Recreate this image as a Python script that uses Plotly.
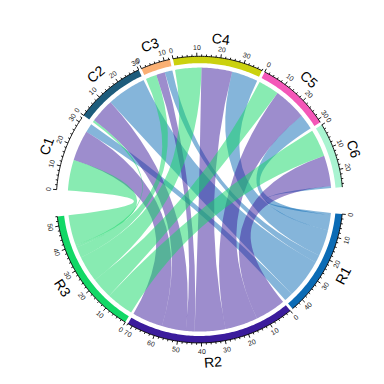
import math
import plotly.graph_objects as go

# ---------------- data ----------------
row_names = ["R1", "R2", "R3"]
col_names = ["C1", "C2", "C3", "C4", "C5", "C6"]
r1_values = [4, 18, 3.5, 12, 7, 1]
r2_values = [14, 11, 4, 14, 15, 14]
r3_values = [14, 1, 5, 12, 9.5, 12.5]
major_tick_step = 10
minor_tick_step = 2

# ---------------- styles ----------------
row_colors = ["#0B6BB5", "#3B1C9C", "#12D866"]
col_colors = ["#FFFFFF", "#1D5C7C", "#FAB073", "#CBD10E", "#F457B8", "#A9F4D1"]
FONT = "Liberation Sans, Arial, sans-serif"

W = H = 384
cx, cy = 191.6, 191.6
r_out = 143.3
r_in = 136.4
r_link = 132.0
start_deg = 5.8
small_gap = 1.2
big_gap = 10.8

matrix = [r1_values, r2_values, r3_values]
names = row_names + col_names
colors = row_colors + col_colors
sizes = [sum(r) for r in matrix] + [sum(matrix[i][j] for i in range(3)) for j in range(6)]
gaps = [small_gap, small_gap, big_gap] + [small_gap] * 5 + [big_gap]
total = sum(sizes)
k = (360 - sum(gaps)) / total

sec_start = []
a = start_deg
for s, g in zip(sizes, gaps):
    sec_start.append(a)
    a += s * k + g


def pt(theta, r):
    t = math.radians(theta)
    return cx + r * math.cos(t), cy + r * math.sin(t)


def arc_pts(t1, t2, r, step=0.8):
    n = max(2, int(abs(t2 - t1) / step) + 2)
    return [pt(t1 + (t2 - t1) * i / (n - 1), r) for i in range(n)]


def fmt(p):
    return f"{p[0]:.2f},{p[1]:.2f}"


def hex_rgba(h, a):
    h = h.lstrip("#")
    return f"rgba({int(h[0:2],16)},{int(h[2:4],16)},{int(h[4:6],16)},{a})"


def text_angle(theta):
    t = theta % 360
    if 0 < t < 180:
        ang = t - 90
    else:
        ang = t + 90
    while ang > 180:
        ang -= 360
    while ang <= -180:
        ang += 360
    return ang


shapes = []
annotations = []

# ---------------- link positions (non-crossing order) ----------------
row_chunks = {}
for i in range(3):
    off = sec_start[i]
    for j in reversed(range(6)):
        v = matrix[i][j]
        row_chunks[(i, j)] = (off, off + v * k)
        off += v * k
col_chunks = {}
for j in range(6):
    off = sec_start[3 + j]
    for i in [2, 1, 0]:
        v = matrix[i][j]
        col_chunks[(i, j)] = (off, off + v * k)
        off += v * k

for j in range(6):
    for i in range(3):
        if matrix[i][j] <= 0:
            continue
        a1, a2 = row_chunks[(i, j)]
        b1, b2 = col_chunks[(i, j)]
        p = arc_pts(a1, a2, r_link)
        q = arc_pts(b1, b2, r_link)
        path = "M " + fmt(p[0]) + " " + " ".join("L " + fmt(x) for x in p[1:])
        path += f" Q {cx:.2f},{cy:.2f} " + fmt(q[0])
        path += " " + " ".join("L " + fmt(x) for x in q[1:])
        path += f" Q {cx:.2f},{cy:.2f} " + fmt(p[0]) + " Z"
        shapes.append(dict(type="path", path=path, fillcolor=hex_rgba(row_colors[i], 0.5),
                           line=dict(width=0), layer="above"))

# ---------------- sector bars, axes, labels ----------------
for idx, (name, s, col) in enumerate(zip(names, sizes, colors)):
    t1 = sec_start[idx]
    t2 = t1 + s * k
    outer = arc_pts(t1, t2, r_out)
    inner = arc_pts(t2, t1, r_in)
    path = "M " + fmt(outer[0]) + " " + " ".join("L " + fmt(x) for x in outer[1:])
    path += " " + " ".join("L " + fmt(x) for x in inner) + " Z"
    shapes.append(dict(type="path", path=path, fillcolor=col, line=dict(width=0), layer="above"))

    path = "M " + fmt(outer[0]) + " " + " ".join("L " + fmt(x) for x in outer[1:])
    shapes.append(dict(type="path", path=path, line=dict(color="black", width=0.9),
                       fillcolor="rgba(0,0,0,0)", layer="above"))
    tp = []
    v = 0.0
    while v <= s + 1e-9:
        th = t1 + v * k
        major = abs(v / major_tick_step - round(v / major_tick_step)) < 1e-6
        ln = 3.6 if major else 1.9
        tp.append("M " + fmt(pt(th, r_out)) + " L " + fmt(pt(th, r_out + ln)))
        if major:
            lp = pt(th, 152.0)
            annotations.append(dict(x=lp[0], y=lp[1], text=str(int(round(v))), showarrow=False,
                                    textangle=text_angle(th), xanchor="center", yanchor="middle",
                                    font=dict(family=FONT, size=7, color="#1a1a1a")))
        v += minor_tick_step
    shapes.append(dict(type="path", path=" ".join(tp), line=dict(color="black", width=0.9),
                       fillcolor="rgba(0,0,0,0)", layer="above"))
    mid = (t1 + t2) / 2
    lp = pt(mid, 162.5)
    annotations.append(dict(x=lp[0], y=lp[1], text=name, showarrow=False,
                            textangle=text_angle(mid), xanchor="center", yanchor="middle",
                            font=dict(family=FONT, size=14, color="black")))

fig = go.Figure()
fig.add_trace(go.Scatter(x=[0, W], y=[0, H], mode="markers", marker=dict(opacity=0),
                         hoverinfo="skip", showlegend=False))
fig.update_layout(
    width=W, height=H, margin=dict(l=0, r=0, t=0, b=0),
    paper_bgcolor="white", plot_bgcolor="white",
    xaxis=dict(range=[0, W], visible=False, fixedrange=True),
    yaxis=dict(range=[H, 0], visible=False, fixedrange=True),
    shapes=shapes, annotations=annotations, showlegend=False,
)
fig.write_html("out.html", config={"displayModeBar": False})
